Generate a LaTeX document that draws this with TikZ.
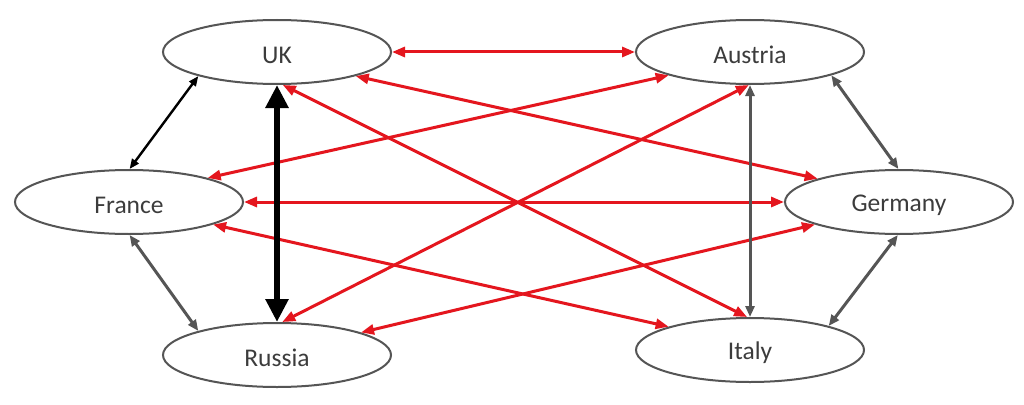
\documentclass[tikz,border=0pt]{standalone}
\usepackage{fontspec}
\setmainfont{Carlito}
\usetikzlibrary{shapes.geometric,arrows.meta}
\definecolor{redline}{RGB}{228,22,30}
\definecolor{grayline}{RGB}{85,85,85}
\definecolor{txt}{RGB}{60,60,60}
\begin{document}
\begin{tikzpicture}[x=1pt,y=-1pt,
  country/.style={ellipse,draw=grayline,line width=2pt,fill=white,minimum width=228pt,minimum height=64pt,inner sep=0pt,font=\fontsize{25.5}{30}\selectfont,text=txt},
  lbl/.style={font=\fontsize{25.5}{30}\selectfont,text=txt,inner sep=0pt},
  redarrow/.style={draw=redline,line width=3pt,{Triangle[length=13pt,width=10pt]}-{Triangle[length=13pt,width=10pt]}},
  grayarrow/.style={draw=grayline,line width=3pt,{Triangle[length=11pt,width=9pt]}-{Triangle[length=11pt,width=9pt]}},
  thinblack/.style={draw=black,line width=2.4pt,{Triangle[length=10pt,width=8pt]}-{Triangle[length=10pt,width=8pt]}},
  thickblack/.style={draw=black,line width=6.5pt,{Triangle[length=23pt,width=22pt]}-{Triangle[length=23pt,width=22pt]}}
]
\useasboundingbox[fill=white] (0,0) rectangle (1024,404);
\node[country] (uk) at (277,52) {};
\node[country] (austria) at (750,52) {};
\node[country] (france) at (129,202) {};
\node[country] (germany) at (899,202) {};
\node[country] (russia) at (277,355) {};
\node[country] (italy) at (750,350) {};
\node[lbl] (ukt) at ([yshift=-3pt]uk.center) {UK};
\node[lbl] (austriat) at ([yshift=-3pt]austria.center) {Austria};
\node[lbl] (francet) at ([yshift=-3pt]france.center) {France};
\node[lbl] (germanyt) at ([yshift=-3pt]germany.center) {Germany};
\node[lbl] (russiat) at ([yshift=-3pt]russia.center) {Russia};
\node[lbl] (italyt) at ([yshift=-3pt]italy.center) {Italy};

% red connectors
\draw[redarrow] (uk.east) -- (austria.west);
\draw[redarrow] (austria.196) -- (france.17);
\draw[redarrow] (uk.343) -- (germany.164);
\draw[redarrow] (uk.280) -- (italy.95);
\draw[redarrow] (france.east) -- (germany.west);
\draw[redarrow] (russia.81) -- (austria.268);
\draw[redarrow] (france.345) -- (italy.164);
\draw[redarrow] (russia.15) -- (germany.195);

% black connectors
\draw[thinblack] (uk.197) -- (france.89);
\draw[thickblack] (uk.south) -- (russia.north);

% gray connectors
\draw[grayarrow] (france.271) -- (russia.163);
\draw[grayarrow] (austria.344) -- (germany.91);
\draw[grayarrow] (germany.268) -- (italy.17);
\draw[grayarrow] (austria.south) -- (italy.north);
\end{tikzpicture}
\end{document}
